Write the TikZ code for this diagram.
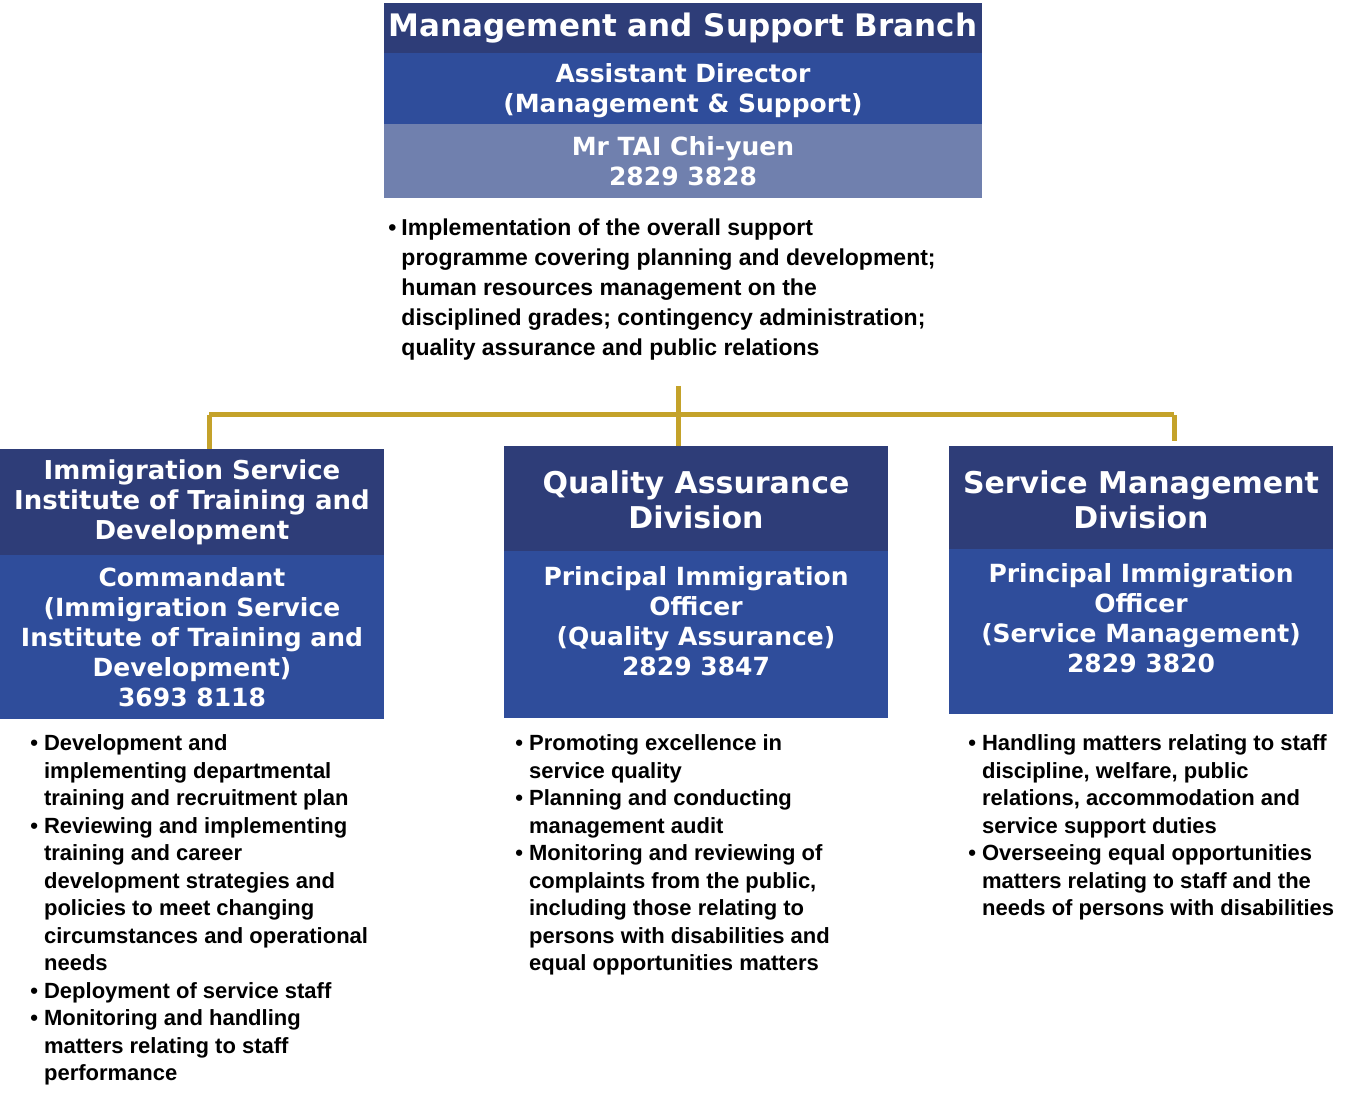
\documentclass[tikz,border=0pt]{standalone}
\usepackage{fontspec}
\setmainfont{Liberation Sans}
\newfontfamily\hd{DejaVu Sans}
\usepackage{array}
\definecolor{navy}{HTML}{2E3D78}
\definecolor{mblue}{HTML}{2F4D9B}
\definecolor{gblue}{HTML}{7080AE}
\definecolor{gold}{HTML}{C4A22A}
\begin{document}
\begin{tikzpicture}[x=0.5pt,y=-0.5pt,
  hdr/.style={font=\hd\bfseries\fontsize{14.5}{17}\selectfont,text=white,align=center},
  sub/.style={font=\hd\bfseries\fontsize{12.5}{15}\selectfont,text=white,align=center},
  bl/.style={anchor=north west,inner sep=0pt,font=\bfseries\fontsize{11}{13.75}\selectfont,align=left},
  conn/.style={draw=gold,line width=2.5pt}]
\useasboundingbox (0,0) rectangle (1371,1101);
% top block
\fill[navy] (384,3) rectangle (982,53);
\fill[mblue] (384,53) rectangle (982,124);
\fill[gblue] (384,124) rectangle (982,198);
\node[hdr,font=\hd\bfseries\fontsize{15.5}{18}\selectfont] (top) at (683,28) {Management and Support Branch};
\node[sub] (ad) at (683,91) {Assistant Director\\(Management \& Support)};
\node[sub] (tai) at (683,161) {Mr TAI Chi-yuen\\2829 3828};
\node[bl,font=\bfseries\fontsize{11.5}{15}\selectfont] (topb) at (388,214) {\begin{tabular}{@{}l@{\hspace{2.5pt}}l@{}}
\textbullet & Implementation of the overall support\\
& programme covering planning and development;\\
& human resources management on the\\
& disciplined grades; contingency administration;\\
& quality assurance and public relations\end{tabular}};
% connectors
\coordinate (c0) at (678,386);
\coordinate (cm) at (678,415);
\coordinate (cl) at (209,415);
\coordinate (cr) at (1174,415);
\coordinate (dl) at (209,449);
\coordinate (dm) at (678,446);
\coordinate (dr) at (1174,441);
\draw[conn] (cl) -- (cr);
\draw[conn] (c0) -- (dm);
\draw[conn] (cl) -- (dl);
\draw[conn] (cr) -- (dr);
% left
\fill[navy] (0,449) rectangle (384,555);
\fill[mblue] (0,555) rectangle (384,719);
\node[hdr,font=\hd\bfseries\fontsize{13}{15}\selectfont] (lh) at (192,502) {Immigration Service\\Institute of Training and\\Development};
\node[sub] (lb) at (192,637) {Commandant\\(Immigration Service\\Institute of Training and\\Development)\\3693 8118};
\node[bl] (ll) at (30,731) {\begin{tabular}{@{}l@{\hspace{3pt}}l@{}}
\textbullet & Development and\\
& implementing departmental\\
& training and recruitment plan\\
\textbullet & Reviewing and implementing\\
& training and career\\
& development strategies and\\
& policies to meet changing\\
& circumstances and operational\\
& needs\\
\textbullet & Deployment of service staff\\
\textbullet & Monitoring and handling\\
& matters relating to staff\\
& performance\end{tabular}};
% middle
\fill[navy] (504,446) rectangle (888,551);
\fill[mblue] (504,551) rectangle (888,718);
\node[hdr,font=\hd\bfseries\fontsize{15}{17.5}\selectfont] (mh) at (696,500) {Quality Assurance\\Division};
\node[sub] (mb) at (696,621) {Principal Immigration\\Officer\\(Quality Assurance)\\2829 3847};
\node[bl] (ml) at (515,731) {\begin{tabular}{@{}l@{\hspace{3pt}}l@{}}
\textbullet & Promoting excellence in\\
& service quality\\
\textbullet & Planning and conducting\\
& management audit\\
\textbullet & Monitoring and reviewing of\\
& complaints from the public,\\
& including those relating to\\
& persons with disabilities and\\
& equal opportunities matters\end{tabular}};
% right
\fill[navy] (949,446) rectangle (1333,549);
\fill[mblue] (949,549) rectangle (1333,714);
\node[hdr,font=\hd\bfseries\fontsize{15}{17.5}\selectfont] (rh) at (1141,500) {Service Management\\Division};
\node[sub] (rb) at (1141,618) {Principal Immigration\\Officer\\(Service Management)\\2829 3820};
\node[bl] (rl) at (968,731) {\begin{tabular}{@{}l@{\hspace{3pt}}l@{}}
\textbullet & Handling matters relating to staff\\
& discipline, welfare, public\\
& relations, accommodation and\\
& service support duties\\
\textbullet & Overseeing equal opportunities\\
& matters relating to staff and the\\
& needs of persons with disabilities\end{tabular}};
\end{tikzpicture}
\end{document}
